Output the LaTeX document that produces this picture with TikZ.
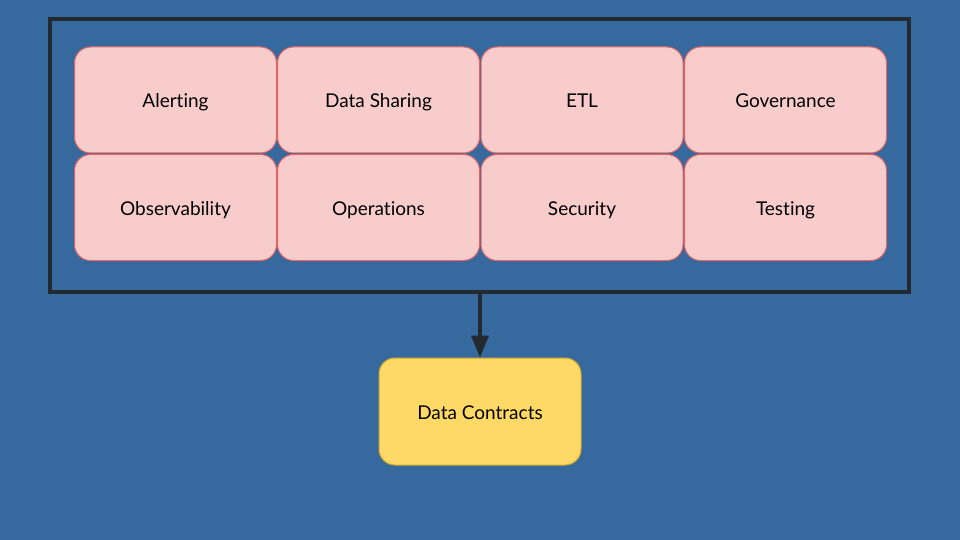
\documentclass[tikz,border=0pt]{standalone}
\usepackage{fontspec}
\setmainfont{Lato}[Ligatures=NoCommon]
\usepackage{tikz}
\usetikzlibrary{arrows.meta}
\definecolor{bgblue}{HTML}{36699E}
\definecolor{framegray}{HTML}{222A30}
\definecolor{tilefill}{HTML}{F9CCCC}
\definecolor{tileline}{HTML}{E06666}
\definecolor{goalfill}{HTML}{FFD966}
\definecolor{goalline}{HTML}{D6A92B}

\begin{document}
\begin{tikzpicture}[x=1pt, y=-1pt,
  tile/.style = {draw = tileline, fill = tilefill, line width = 1pt, rounded corners = 16pt,
    minimum width = 202pt, minimum height = 106pt, inner sep = 0pt,
    text height = 16pt, text depth = 0pt,
    font = \fontsize{19}{22}\selectfont, text = black},
  goal/.style = {tile, draw = goalline, fill = goalfill, minimum height = 107pt}]
\fill[bgblue] (0,0) rectangle (960,540);
\draw[line width = 4pt, framegray] (50,19) rectangle (909,292);
\coordinate (framebottom) at (480,292);

\foreach \name/\x/\y/\txt in {alert/175.5/100/Alerting, share/378.5/100/Data Sharing,
    etl/582/100/ETL, gov/785.5/100/Governance,
    obs/175.5/207.5/Observability, ops/378.5/207.5/Operations,
    sec/582/207.5/Security, test/785.5/207.5/Testing}
	\node[tile] (\name) at (\x,\y) {\txt};

\node[goal] (contracts) at (480,411.5) {Data Contracts};
\draw[line width = 4pt, framegray, -{Triangle[width=17pt, length=22pt]}] (framebottom) -- (contracts.north);
\end{tikzpicture}
\end{document}
